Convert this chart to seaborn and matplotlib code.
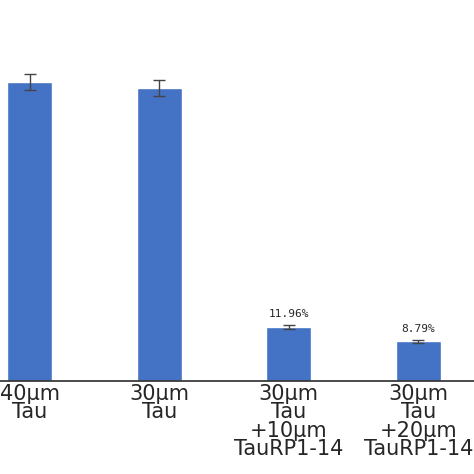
import matplotlib
matplotlib.use("Agg")
import matplotlib.pyplot as plt
import seaborn as sns
import pandas as pd

sns.set_theme(style="white")

labels = ["40\u03bcm\nTau", "30\u03bcm\nTau", "30\u03bcm\nTau\n+10\u03bcm\nTauRP1-14", "30\u03bcm\nTau\n+20\u03bcm\nTauRP1-14"]
values = [100.0, 98.0, 18.0, 13.4]
errors = [2.7, 2.7, 0.7, 0.5]
annotations = [None, None, "11.96%", "8.79%"]

df = pd.DataFrame({"group": labels, "value": values})

fig = plt.figure(figsize=(4.74, 4.74), dpi=100)
ax = fig.add_axes([0, 0.196, 1, 0.804])
sns.barplot(data=df, x="group", y="value", color="#4472C4", saturation=1, width=0.35, ax=ax)
ax.errorbar(range(len(values)), values, yerr=errors, fmt="none", ecolor="#444444", elinewidth=1, capsize=4)
for i, (v, e, a) in enumerate(zip(values, errors, annotations)):
    if a:
        ax.text(i, v + e + 2, a, ha="center", va="bottom", fontsize=8, family="DejaVu Sans Mono")

ax.set_xlim(-0.23, 3.43)
ax.set_ylim(0, 127.4)
ax.set_xlabel("")
ax.set_ylabel("")
ax.set_yticks([])
for s in ["top", "left", "right"]:
    ax.spines[s].set_visible(False)
ax.spines["bottom"].set_color("#333333")
ax.tick_params(axis="x", length=0, pad=2)
ax.set_xticks(range(len(labels)))
ax.set_xticklabels(labels, fontsize=15, linespacing=0.9)

fig.savefig("out.png", dpi=100)
